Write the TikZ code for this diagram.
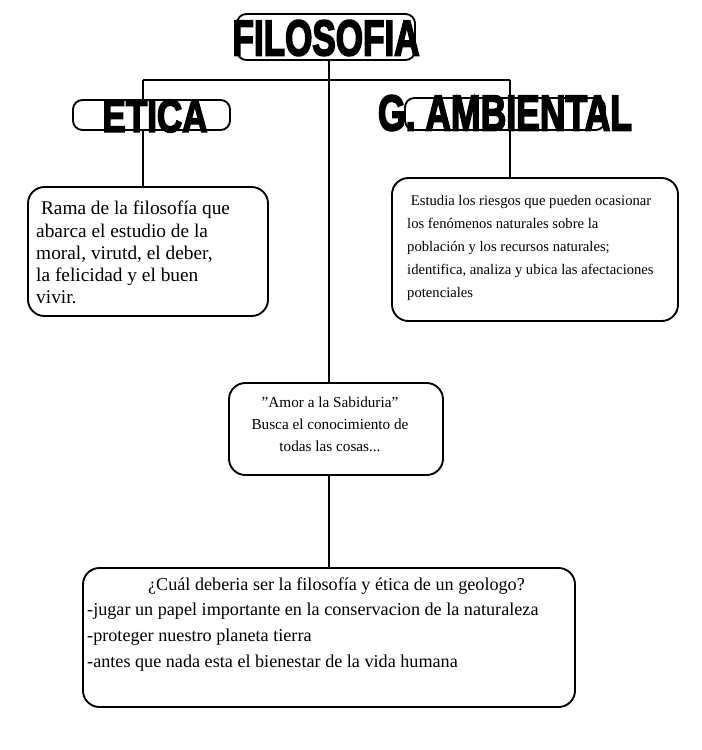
\documentclass[tikz,border=0pt]{standalone}
\usepackage{fontspec}
\setmainfont{Liberation Serif}
\newfontfamily\headfont[FakeBold=4]{Liberation Sans Bold}
\usepackage{graphicx}
\begin{document}
\begin{tikzpicture}[x=0.03cm,y=-0.03cm,
  line/.style={line width=1.6pt},
  pill/.style={draw,line width=1.6pt,rounded corners=8pt},
  txtbox/.style={draw,line width=1.6pt,rounded corners=14pt},
  hd/.style={inner sep=0pt,anchor=center}]
\useasboundingbox (0,0) rectangle (702,750);
\draw[pill] (237,14) rectangle (415,60);
\draw[pill] (73,100) rectangle (230,130);
\draw[pill] (405,98) rectangle (605,130);
\node[hd] (filt) at (326,38) {\headfont\resizebox{5.61cm}{1.05cm}{FILOSOFIA}};
\node[hd] (eti) at (155,116) {\headfont\resizebox{3.15cm}{0.96cm}{ETICA}};
\node[hd] (gam) at (505,113) {\headfont\resizebox{7.62cm}{1.05cm}{G. AMBIENTAL}};
\coordinate (top) at (329,60);
\coordinate (j) at (329,80);
\coordinate (jl) at (143,80);
\coordinate (jr) at (510,80);
\draw[line] (top) -- (j);
\draw[line] (jl) -- (jr);
\draw[line] (jl) -- (143,100);
\draw[line] (jr) -- (510,98);
\draw[txtbox] (28,187) rectangle (268,316);
\draw[txtbox] (392,178) rectangle (678,321);
\draw[txtbox] (229,383) rectangle (443,475);
\draw[txtbox] (83,568) rectangle (575,707);
\draw[line] (143,130) -- (143,187);
\draw[line] (510,130) -- (510,178);
\draw[line] (j) -- (329,383);
\draw[line] (329,475) -- (329,568);
\node[anchor=north west,inner sep=0pt,align=left,font=\fontsize{16.5pt}{19pt}\selectfont] (ltxt) at (36,201)
 {\ Rama de la filosofía que\\abarca el estudio de la\\moral, virutd, el deber,\\la felicidad y el buen\\vivir.};
\node[anchor=north west,inner sep=0pt,align=left,font=\fontsize{12.5pt}{19.6pt}\selectfont] (rtxt) at (407,195)
 {\ Estudia los riesgos que pueden ocasionar\\los fenómenos naturales sobre la\\población y los recursos naturales;\\identifica, analiza y ubica las afectaciones\\potenciales};
\node[anchor=north,inner sep=0pt,align=center,font=\fontsize{13pt}{18.7pt}\selectfont] (mtxt) at (330,397)
 {\char34Amor a la Sabiduria\char34\\Busca el conocimiento de\\todas las cosas...};
\node[anchor=north west,inner sep=0pt,align=left,font=\fontsize{15.5pt}{22pt}\selectfont] (btxt) at (87,577)
 {\hspace*{52pt}¿Cuál deberia ser la filosofía y ética de un geologo?\\-jugar un papel importante en la conservacion de la naturaleza\\-proteger nuestro planeta tierra\\-antes que nada esta el bienestar de la vida humana};
\end{tikzpicture}
\end{document}
